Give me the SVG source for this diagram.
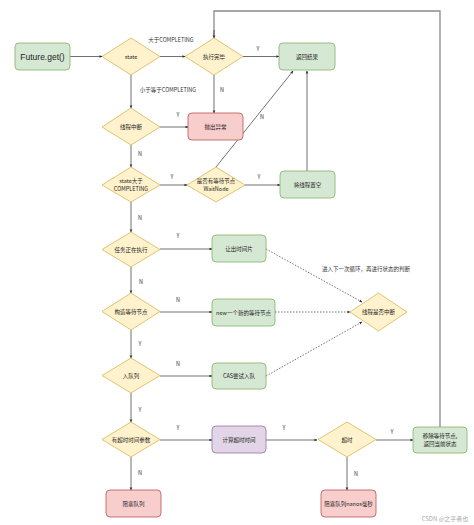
<svg xmlns="http://www.w3.org/2000/svg" width="474" height="525" viewBox="0 0 474 525">
<defs>
<marker id="ah" viewBox="0 0 10 10" refX="9" refY="5" markerWidth="5" markerHeight="5" orient="auto"><path d="M0,1 L10,5 L0,9 L3,5 Z" fill="#222"/></marker>
<style>
.g{fill:#d5e8d4;stroke:#82b366;stroke-width:0.8}
.y{fill:#fff2cc;stroke:#d6b656;stroke-width:0.8}
.r{fill:#f8cecc;stroke:#b85450;stroke-width:0.8}
.p{fill:#e1d5e7;stroke:#9673a6;stroke-width:0.8}
.t{font-family:"Noto Sans CJK SC","Liberation Sans",sans-serif;font-size:5.5px;fill:#222;text-anchor:middle;dominant-baseline:central}
.l{font-family:"Noto Sans CJK SC","Liberation Sans",sans-serif;font-size:5.5px;fill:#333;text-anchor:middle;dominant-baseline:central}
.e{fill:none;stroke:#333;stroke-width:0.7;marker-end:url(#ah)}
.d{fill:none;stroke:#333;stroke-width:0.7;stroke-dasharray:1.5 1.5;marker-end:url(#ah)}
</style>
</defs>
<rect width="474" height="525" fill="#fff"/>
<g id="connectors">
<path class="e" d="M70,56.5 L102,56.5"/>
<path class="e" d="M160,56.5 L185,56.5"/>
<path class="e" d="M243,56.5 L279,56.5"/>
<path class="e" d="M214,75 L214,113"/>
<path class="e" d="M131,75 L131,108"/>
<path class="e" d="M160,127 L188,127"/>
<path class="e" d="M131,145 L131,167"/>
<path class="e" d="M160,185 L187,185"/>
<path class="e" d="M216,167 L293,71"/>
<path class="e" d="M245,185 L280,185"/>
<path class="e" d="M307,171 L307,71"/>
<path class="e" d="M131,202 L131,232"/>
<path class="e" d="M160,249 L212,249"/>
<path class="e" d="M131,267 L131,293"/>
<path class="e" d="M160,312 L212,312"/>
<path class="e" d="M131,330 L131,358"/>
<path class="e" d="M160,376 L212,376"/>
<path class="e" d="M131,393 L131,422"/>
<path class="e" d="M160,440 L212,440"/>
<path class="e" d="M266,440 L317,440"/>
<path class="e" d="M376,440 L413,440"/>
<path class="e" d="M347,457 L347,490"/>
<path class="e" d="M131,457 L131,490"/>
<path class="d" d="M266,249 L362,302"/>
<path class="d" d="M275,312 L350,312"/>
<path class="d" d="M266,376 L362,322"/>
<path fill="none" stroke="#8a8a8a" stroke-width="1.3" d="M440,427 L440,11 L214,11 L214,37"/>
<path class="e" d="M214,30 L214,38"/>
<text class="l" x="171" y="40">大于COMPLETING</text>
<text class="l" x="258" y="49">Y</text>
<text class="l" x="222" y="90">N</text>
<text class="l" x="168" y="90">小于等于COMPLETING</text>
<text class="l" x="178" y="115">Y</text>
<text class="l" x="140" y="154">N</text>
<text class="l" x="172" y="177">Y</text>
<text class="l" x="262" y="117">N</text>
<text class="l" x="259" y="177">Y</text>
<text class="l" x="140" y="218">N</text>
<text class="l" x="178" y="236">Y</text>
<text class="l" x="141" y="282">N</text>
<text class="l" x="178" y="300">N</text>
<text class="l" x="140" y="344">Y</text>
<text class="l" x="178" y="364">N</text>
<text class="l" x="140" y="410">Y</text>
<text class="l" x="178" y="428">Y</text>
<text class="l" x="284" y="428">Y</text>
<text class="l" x="392" y="432">Y</text>
<text class="l" x="356" y="474">N</text>
<text class="l" x="140" y="473">N</text>
<text class="l" x="366" y="269">进入下一次循环，再进行状态的判断</text>
</g>
<g id="n-futureget"><rect class="g" x="15" y="43" width="55" height="27" rx="4"/><text class="t" x="42.5" y="56.5" style="font-family:'Liberation Sans',sans-serif;font-size:8.5px">Future.get()</text></g>
<g id="n-state"><polygon class="y" points="131,38 160,56.5 131,75 102,56.5"/><text class="t" x="131" y="56.5">state</text></g>
<g id="n-done"><polygon class="y" points="214,38 243,56.5 214,75 185,56.5"/><text class="t" x="214" y="56.5">执行完毕</text></g>
<g id="n-return"><rect class="g" x="279" y="43" width="56" height="27" rx="4"/><text class="t" x="307" y="56.5">返回结果</text></g>
<g id="n-interrupt"><polygon class="y" points="131,108 160,127 131,145 102,127"/><text class="t" x="131" y="127">线程中断</text></g>
<g id="n-throw"><rect class="r" x="188" y="113" width="55" height="27" rx="4"/><text class="t" x="215.5" y="126.5">抛出异常</text></g>
<g id="n-state2"><polygon class="y" points="131,167 160,185 131,202 102,185"/><text class="t" x="131" y="181">state大于</text><text class="t" x="131" y="188.5">COMPLETING</text></g>
<g id="n-waitnode"><polygon class="y" points="216,167 245,185 216,202 187,185"/><text class="t" x="216" y="181">是否有等待节点</text><text class="t" x="216" y="188.5">WaitNode</text></g>
<g id="n-nullthread"><rect class="g" x="280" y="171" width="55" height="27" rx="4"/><text class="t" x="307.5" y="184.5">将线程置空</text></g>
<g id="n-running"><polygon class="y" points="131,232 160,249.5 131,267 102,249.5"/><text class="t" x="131" y="249.5">任务正在执行</text></g>
<g id="n-yield"><rect class="g" x="212" y="235" width="54" height="27" rx="4"/><text class="t" x="239" y="248.5">让出时间片</text></g>
<g id="n-build"><polygon class="y" points="131,293 160,311.5 131,330 102,311.5"/><text class="t" x="131" y="311.5">构造等待节点</text></g>
<g id="n-newnode"><rect class="g" x="212" y="299" width="63" height="27" rx="4"/><text class="t" x="243.5" y="312.5">new一个新的等待节点</text></g>
<g id="n-interrupted"><polygon class="y" points="378.5,293 407,312 378.5,331 350,312"/><text class="t" x="378.5" y="312">线程是否中断</text></g>
<g id="n-enqueue"><polygon class="y" points="131,358 160,375.5 131,393 102,375.5"/><text class="t" x="131" y="375.5">入队列</text></g>
<g id="n-cas"><rect class="g" x="212" y="363" width="54" height="26" rx="4"/><text class="t" x="239" y="376">CAS尝试入队</text></g>
<g id="n-timeout-param"><polygon class="y" points="131,422 160,439.5 131,457 102,439.5"/><text class="t" x="131" y="439.5">有超时时间参数</text></g>
<g id="n-calc"><rect class="p" x="212" y="426" width="54" height="27" rx="4"/><text class="t" x="239" y="439.5">计算超时时间</text></g>
<g id="n-timeout"><polygon class="y" points="347,422 376,439.5 347,457 318,439.5"/><text class="t" x="347" y="439.5">超时</text></g>
<g id="n-remove"><rect class="g" x="413" y="427" width="54" height="26" rx="4"/><text class="t" x="440" y="436">移除等待节点,</text><text class="t" x="440" y="444">返回当前状态</text></g>
<g id="n-park"><rect class="r" x="106" y="490" width="55" height="27" rx="4"/><text class="t" x="133.5" y="503.5">阻塞队列</text></g>
<g id="n-parknanos"><rect class="r" x="321" y="490" width="55" height="27" rx="4"/><text class="t" x="348.5" y="503.5">阻塞队列nanos毫秒</text></g>
<text x="445" y="518" style="font-family:'Noto Sans CJK SC','Liberation Sans',sans-serif;font-size:6px;fill:#aaa;text-anchor:middle;dominant-baseline:central">CSDN @之乎者也</text>
</svg>
